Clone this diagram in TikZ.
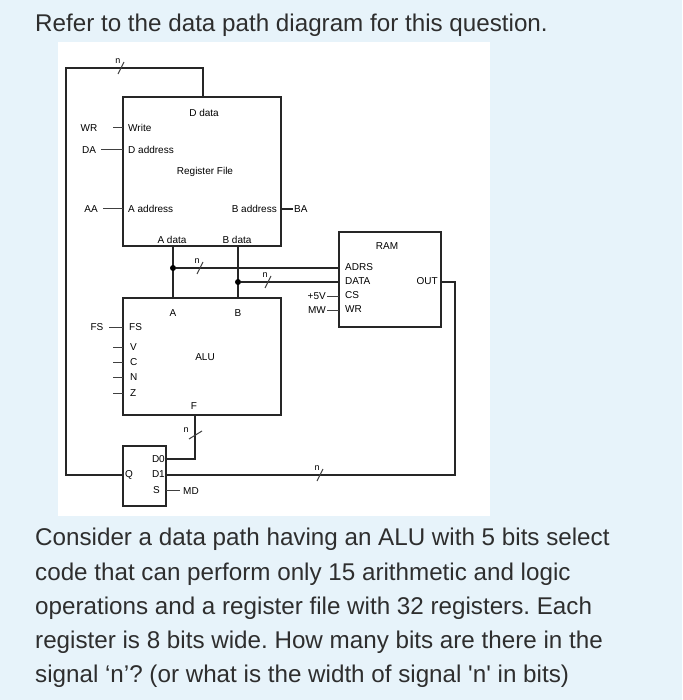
\documentclass[tikz,border=0pt]{standalone}
\usepackage{fontspec}
\setmainfont{Liberation Sans}
\definecolor{bg}{HTML}{E7F3FA}
\definecolor{txt}{HTML}{2E2E2E}
\frenchspacing
\begin{document}
\begin{tikzpicture}[x=1pt,y=-1pt,
  w/.style={line width=1.8pt,black!85},
  t/.style={line width=1pt,black!75},
  lb/.style={font=\fontsize{10}{11}\selectfont,inner sep=0pt},
  sl/.style={font=\fontsize{9}{10}\selectfont,inner sep=0pt},
  para/.style={font=\fontsize{24.2}{34}\selectfont,color=txt,anchor=west,inner sep=0pt},
  dot/.style={circle,fill=black,inner sep=0pt,minimum size=6pt}]
\fill[bg] (0,0) rectangle (682,700);
\useasboundingbox (0,0) rectangle (682,700);
\fill[white] (58,42) rectangle (490,516);
\node[para] (title) at (35,25) {Refer to the data path diagram for this question.};
\node[para] (p1) at (35,539) {Consider a data path having an ALU with 5 bits select};
\node[para] (p2) at (35,574) {code that can perform only 15 arithmetic and logic};
\node[para] (p3) at (35,608) {operations and a register file with 32 registers. Each};
\node[para] (p4) at (35,642) {register is 8 bits wide. How many bits are there in the};
\node[para] (p5) at (35,676) {signal ‘n’? (or what is the width of signal \textquotesingle n\textquotesingle\ in bits)};
% boxes
\draw[w] (123,97) rectangle (281,246);
\draw[w] (123,298) rectangle (281,415);
\draw[w] (339,232) rectangle (441,327);
\draw[w] (123,446) rectangle (166,506);
% register file labels
\node[lb] (dd) at (204,113) {D data};
\node[lb,anchor=west] (wr) at (128,128) {Write};
\node[lb,anchor=west] (da) at (128,150) {D address};
\node[lb] (rf) at (205,172) {Register File};
\node[lb,anchor=west] (aa) at (128,209) {A address};
\node[lb,anchor=east] (ba) at (277,209) {B address};
\node[lb] (adat) at (172,240) {A data};
\node[lb] (bdat) at (237,240) {B data};
\node[lb] (WR) at (89,128) {WR};
\node[lb] (DA) at (89,150) {DA};
\node[lb] (AA) at (91,209) {AA};
\node[lb,anchor=west] (BA) at (294,209) {BA};
\draw[t] (113,128) -- (123,128); \draw[t] (101,150) -- (123,150);
\draw[t] (103,209) -- (123,209); \draw[w] (281,209) -- (293,209);
% ALU labels
\node[lb] (A) at (173,313) {A};
\node[lb] (B) at (238,313) {B};
\node[lb,anchor=west] (fsi) at (129,327) {FS};
\node[lb] (FS) at (97,327) {FS};
\draw[t] (109,327) -- (123,327);
\node[lb] (alu) at (205,357) {ALU};
\node[lb,anchor=west] (v) at (130,347) {V};
\node[lb,anchor=west] (c) at (130,362) {C};
\node[lb,anchor=west] (nn) at (130,377) {N};
\node[lb,anchor=west] (z) at (130,393) {Z};
\foreach \yy in {347,362,377,393} \draw[t] (113,\yy) -- (123,\yy);
\node[lb] (F) at (194,406) {F};
% RAM labels
\node[lb] (ram) at (387,246) {RAM};
\node[lb,anchor=west] (adrs) at (345,267) {ADRS};
\node[lb,anchor=west] (data) at (345,281) {DATA};
\node[lb,anchor=west] (cs) at (345,295) {CS};
\node[lb,anchor=west] (rwr) at (345,309) {WR};
\node[lb,anchor=east] (out) at (438,281) {OUT};
\node[lb,anchor=east] (v5) at (326,296) {+5V};
\node[lb,anchor=east] (mw) at (326,310) {MW};
\draw[t] (327,296) -- (339,296); \draw[t] (327,310) -- (339,310);
% mux labels
\node[lb,anchor=east] (d0) at (165,459) {D0};
\node[lb,anchor=east] (d1) at (165,474) {D1};
\node[lb,anchor=east] (s) at (160,490) {S};
\node[lb,anchor=west] (q) at (125,475) {Q};
\node[lb,anchor=west] (md) at (183,491) {MD};
\draw[t] (166,490) -- (180,490);
% bus wires
\coordinate (tl) at (66,68); \coordinate (tr) at (203,68);
\draw[w] (203,97) -- (tr) -- (tl) -- (66,475) -- (123,475);
\draw[w] (173,246) -- (173,298);
\draw[w] (238,246) -- (238,298);
\node[dot] (ja) at (173,268) {};
\node[dot] (jb) at (238,282) {};
\draw[w] (ja) -- (339,268);
\draw[w] (jb) -- (339,282);
\draw[w] (441,282) -- (455,282) -- (455,475) -- (166,475);
\draw[w] (195,415) -- (195,459) -- (166,459);
% slashes
\foreach \xx/\yy in {121/68,200/268,268/282,320/475}{
  \draw[t] (\xx-3,\yy+6) -- (\xx+3,\yy-6);
  \node[sl] at (\xx-3,\yy-7) {n};}
\draw[t] (189,439) -- (202,431);
\node[sl] at (186,430) {n};
\end{tikzpicture}
\end{document}
